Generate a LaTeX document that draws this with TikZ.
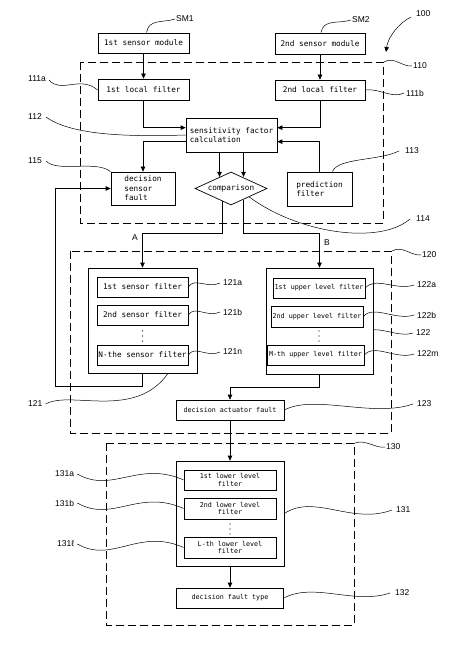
\documentclass[tikz,border=0pt]{standalone}
\usepackage{fontspec}
\setmainfont{Liberation Sans}
\newfontfamily\boxfont{DejaVu Sans Mono}
\usetikzlibrary{arrows.meta,shapes.geometric,calc}
\begin{document}
\begin{tikzpicture}[x=1pt,y=-1pt,
 bx/.style={draw, line width=0.7pt, inner sep=1pt, font=\boxfont\fontsize{7.7}{9.5}\selectfont},
 sbx/.style={bx, font=\boxfont\fontsize{6.7}{7.6}\selectfont},
 lab/.style={font=\fontsize{8.5}{10}\selectfont, inner sep=0pt, anchor=west},
 arr/.style={-{Triangle[length=5pt,width=4.5pt]}, line width=0.7pt},
 lead/.style={line width=0.5pt},
 grp/.style={draw, dash pattern=on 8pt off 4pt, line width=0.7pt}]
\useasboundingbox (0,0) rectangle (474,647);
% groups
\draw[grp] (80,62) rectangle (383,223);
\draw[grp] (70,251) rectangle (391,433);
\draw[grp] (106,443) rectangle (354,625);
\coordinate (c110) at (384,62);
\coordinate (c120) at (392,251);
\coordinate (c130) at (355,443);
\coordinate (c100) at (386,52);
% boxes
\node[bx, minimum width=91pt, minimum height=20pt] (sm1) at (143.5,43) {1st sensor module};
\node[bx, minimum width=90pt, minimum height=21pt] (sm2) at (320,43.5) {2nd sensor module};
\node[bx, minimum width=91pt, minimum height=21pt] (lf1) at (143.5,89.5) {1st local filter};
\node[bx, minimum width=90pt, minimum height=20pt] (lf2) at (320,90) {2nd local filter};
\node[bx, minimum width=91pt, minimum height=34pt, align=left] (sens) at (231.5,135) {sensitivity factor\\calculation};
\node[bx, minimum width=64pt, minimum height=33pt, align=left] (dsf) at (143,188.5) {decision\\sensor\\fault};
\node[bx, diamond, shape aspect=2.2, minimum width=72pt, minimum height=33pt, inner sep=0pt] (comp) at (231,188.5) {comparison};
\node[bx, minimum width=65pt, minimum height=34pt, align=left] (pred) at (319.5,189) {prediction\\filter};
\node[bx, minimum width=109pt, minimum height=105pt] (g121) at (142.5,320.5) {};
\node[bx, minimum width=91pt, minimum height=20pt] (sf1) at (142.5,287) {1st sensor filter};
\node[bx, minimum width=91pt, minimum height=20pt] (sf2) at (142.5,315) {2nd sensor filter};
\node[bx, minimum width=91pt, minimum height=20pt] (sfn) at (142.5,355) {N-the sensor filter};
\node[bx, minimum width=107pt, minimum height=106pt] (g122) at (319.5,321) {};
\node[sbx, minimum width=92pt, minimum height=20pt] (uf1) at (319,288) {1st upper level filter};
\node[sbx, minimum width=92pt, minimum height=21pt] (uf2) at (317,316.5) {2nd upper level filter};
\node[sbx, minimum width=97pt, minimum height=20pt] (ufm) at (315.5,355) {M-th upper level filter};
\node[sbx, minimum width=108pt, minimum height=20pt] (daf) at (230,410) {decision actuator fault};
\node[bx, minimum width=108pt, minimum height=105pt] (g131) at (230,513.5) {};
\node[sbx, minimum width=92pt, minimum height=20pt, align=center] (lo1) at (230,480) {1st lower level\\filter};
\node[sbx, minimum width=92pt, minimum height=21pt, align=center] (lo2) at (230,508.5) {2nd lower level\\filter};
\node[sbx, minimum width=92pt, minimum height=21pt, align=center] (lol) at (230,547.5) {L-th lower level\\filter};
\node[sbx, minimum width=107pt, minimum height=20pt] (dft) at (230,598) {decision fault type};
% dots
\foreach \yy in {331,336,341} {\fill (142.5,\yy) circle (0.6); \fill (319,\yy) circle (0.6);}
\foreach \yy in {524,529,534} {\fill (230,\yy) circle (0.6);}
% connectors
\draw[arr] (sm1) -- (lf1);
\draw[arr] (sm2) -- (lf2);
\draw[arr] (lf1.south) |- ($(sens.north west)+(0,10)$);
\draw[arr] (lf2.south) |- ($(sens.north east)+(0,10)$);
\draw[arr] (pred.north) |- ($(sens.north east)+(0,24)$);
\draw[arr] ($(sens.north west)+(0,24)$) -| (dsf.north);
\draw[arr] ($(sens.south)+(-12,0)$) -- ++(0,24.5);
\draw[arr] ($(sens.south)+(12,0)$) -- ++(0,24.5);
\draw[arr] ($(comp.south)+(-9,-4)$) -- ++(0,32) -| (g121.north);
\draw[arr] ($(comp.south)+(12,-5.5)$) -- ++(0,33.5) -| (g122.north);
\draw[arr] (g121.south) -- ++(0,13) -- ++(-87.5,0) |- (dsf.west);
\draw[arr] (g122.south) -- ++(0,13) -| (daf.north);
\draw[arr] (daf) -- (g131);
\draw[arr] (g131) -- (dft);
% labels
\node[lab] (lSM1) at (176,19) {SM1};
\node[lab] (lSM2) at (352,20) {SM2};
\node[lab] (l100) at (416,14) {100};
\node[lab] (l110) at (413,66) {110};
\node[lab] (l111a) at (28,79) {111a};
\node[lab] (l111b) at (406,93) {111b};
\node[lab] (l112) at (28,117) {112};
\node[lab] (l115) at (28,161) {115};
\node[lab] (l113) at (405,151) {113};
\node[lab] (l114) at (416,219) {114};
\node[lab, anchor=center] (lA) at (135,238) {A};
\node[lab, anchor=center] (lB) at (327,243) {B};
\node[lab] (l120) at (422,255) {120};
\node[lab] (l121a) at (223,283) {121a};
\node[lab] (l121b) at (223,312) {121b};
\node[lab] (l121n) at (223,352) {121n};
\node[lab] (l122a) at (417,285) {122a};
\node[lab] (l122b) at (417,315) {122b};
\node[lab] (l122) at (416,333) {122};
\node[lab] (l122m) at (417,354) {122m};
\node[lab] (l121) at (28,404) {121};
\node[lab] (l123) at (417,404) {123};
\node[lab] (l130) at (386,447) {130};
\node[lab] (l131a) at (55,474) {131a};
\node[lab] (l131b) at (55,503) {131b};
\node[lab] (l131l) at (57,544) {131ℓ};
\node[lab] (l131) at (396,510) {131};
\node[lab] (l132) at (395,593) {132};
% leaders
\draw[lead] ($(sm1.north)+(3,0)$) .. controls +(2,-14) and +(-12,4) .. ($(lSM1.west)+(-1,0)$);
\draw[lead] ($(sm2.north)+(1,0)$) .. controls +(2,-14) and +(-12,4) .. ($(lSM2.west)+(-1,0)$);
\draw[arr, line width=0.5pt] ($(l100.west)+(-5,3)$) .. controls +(-12,6) and +(2,-15) .. (c100);
\draw[lead] (c110) .. controls +(10,-6) and +(-10,1) .. ($(l110.west)+(-1,0)$);
\draw[lead] ($(l111a.east)+(3,1)$) .. controls +(12,14) and +(-18,-15) .. ($(lf1.west)+(0,0.5)$);
\draw[lead] (lf2.east) .. controls +(14,-2) and +(-12,6) .. ($(l111b.west)+(-2,0)$);
\draw[lead] ($(l112.east)+(4,0)$) .. controls +(25,18) and +(-60,2) .. (sens.west);
\draw[lead] ($(l115.east)+(4,0)$) .. controls +(12,12) and +(-15,-12) .. (dsf.north west);
\draw[lead] ($(pred.north)+(13,0)$) .. controls +(5,-14) and +(-20,10) .. ($(l113.west)+(-6,0)$);
\draw[lead] (comp.south east) .. controls +(50,37) and +(-30,26) .. ($(l114.west)+(-6,0)$);
\draw[lead] (c120) .. controls +(10,-6) and +(-10,1) .. ($(l120.west)+(-1,0)$);
\draw[lead] (sf1.east) .. controls +(6,-10) and +(-12,6) .. ($(l121a.west)+(-3,0)$);
\draw[lead] (sf2.east) .. controls +(6,-10) and +(-12,6) .. ($(l121b.west)+(-3,0)$);
\draw[lead] (sfn.east) .. controls +(6,-10) and +(-12,6) .. ($(l121n.west)+(-3,0)$);
\draw[lead] ($(l121.east)+(3,0)$) .. controls +(25,-14) and +(-33,47) .. ($(g121.south)+(25.5,0)$);
\draw[lead] (uf1.east) .. controls +(10,-12) and +(-18,6) .. ($(l122a.west)+(-3,0)$);
\draw[lead] (uf2.east) .. controls +(10,-12) and +(-18,6) .. ($(l122b.west)+(-3,0)$);
\draw[lead] ($(g122.north east)+(0,62)$) .. controls +(14,0) and +(-12,4) .. ($(l122.west)+(-3,0)$);
\draw[lead] (ufm.east) .. controls +(10,-12) and +(-18,6) .. ($(l122m.west)+(-3,0)$);
\draw[lead] (daf.east) .. controls +(30,-16) and +(-40,14) .. ($(l123.west)+(-4,0)$);
\draw[lead] (c130) .. controls +(10,-4) and +(-8,2) .. ($(l130.west)+(-1,0)$);
\draw[lead] ($(l131a.east)+(3,0)$) .. controls +(35,20) and +(-45,-20) .. (lo1.west);
\draw[lead] ($(l131b.east)+(3,0)$) .. controls +(35,20) and +(-45,-20) .. (lo2.west);
\draw[lead] ($(l131l.east)+(3,0)$) .. controls +(35,20) and +(-45,-20) .. (lol.west);
\draw[lead] (g131.east) .. controls +(30,-20) and +(-40,15) .. ($(l131.west)+(-4,0)$);
\draw[lead] (dft.east) .. controls +(30,-16) and +(-35,12) .. ($(l132.west)+(-5,0)$);
\end{tikzpicture}
\end{document}
